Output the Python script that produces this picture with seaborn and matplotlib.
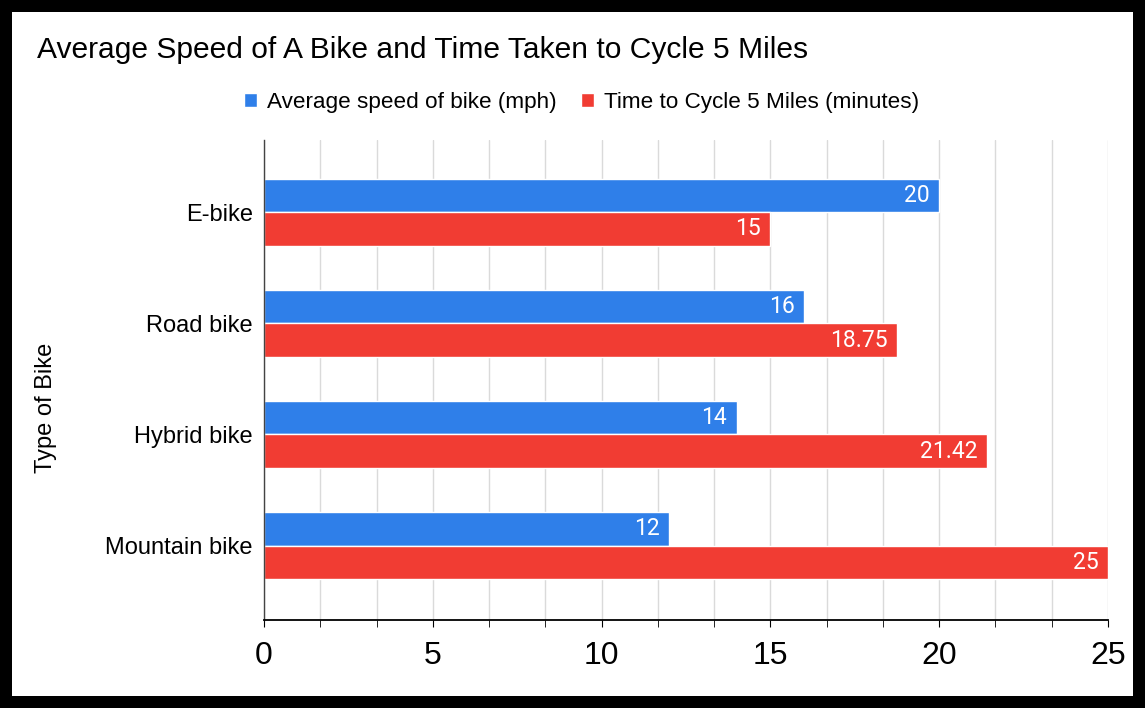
import pandas as pd
import numpy as np
import matplotlib
matplotlib.use("Agg")
import matplotlib.pyplot as plt
import seaborn as sns
from matplotlib.patches import Rectangle
from matplotlib.ticker import MultipleLocator

bikes = ["E-bike", "Road bike", "Hybrid bike", "Mountain bike"]
speed = [20, 16, 14, 12]
time_taken = [15, 18.75, 21.42, 25]
series = ["Average speed of bike (mph)", "Time to Cycle 5 Miles (minutes)"]

df = pd.DataFrame({
    "bike": bikes * 2,
    "value": speed + time_taken,
    "series": [series[0]] * 4 + [series[1]] * 4,
})

sns.set_style("white")
plt.rcParams['font.family'] = ['Liberation Sans', 'DejaVu Sans']
plt.rcParams['text.color'] = 'black'
plt.rcParams['xtick.color'] = 'black'
plt.rcParams['ytick.color'] = 'black'

blue = "#2F7FE9"
red = "#F13C33"

fig = plt.figure(figsize=(11.45, 7.08), dpi=100)
fig.patch.set_facecolor("black")
# white card inside the black frame
fig.patches.append(Rectangle((12/1145, 12/708), 1 - 24/1145, 1 - 24/708,
                             transform=fig.transFigure, facecolor="white",
                             edgecolor="none", zorder=-10))

ax = fig.add_axes([264/1145, 1 - 620/708, (1108 - 264)/1145, (620 - 140)/708])
sns.barplot(data=df, y="bike", x="value", hue="series", orient="h",
            palette=[blue, red], width=0.6, saturation=1, ax=ax)

# value labels inside bar ends
for cont in ax.containers:
    for p in cont:
        w = p.get_width()
        ax.annotate(f"{w:g}", (w, p.get_y() + p.get_height()/2),
                    xytext=(-7, 0), textcoords="offset points",
                    ha="right", va="center", color="white",
                    fontsize=16.5, family=["Roboto", "DejaVu Sans"])

ax.set_xlim(0, 25)
ax.set_ylim(3.67, -0.65)
ax.xaxis.set_major_locator(MultipleLocator(5))
ax.xaxis.set_minor_locator(MultipleLocator(5/3))
ax.grid(True, which="both", axis="x", color="#DADADA", linewidth=1)
ax.set_axisbelow(True)
ax.tick_params(axis="x", which="both", direction="out", length=5,
               color="black", bottom=True)
ax.tick_params(axis="x", which="major", labelsize=23, pad=10, labelcolor="black")
ax.tick_params(axis="y", length=0, labelsize=17, pad=8, labelcolor="black")

for s in ["top", "right"]:
    ax.spines[s].set_visible(False)
ax.spines["bottom"].set_color("black")
ax.spines["bottom"].set_linewidth(1.3)
ax.spines["left"].set_color("#444444")
ax.spines["left"].set_linewidth(1)

ax.set_xlabel("")
ax.set_ylabel("")
ax.get_legend().remove()

handles = [Rectangle((0, 0), 1, 1, facecolor=c) for c in [blue, red]]
fig.legend(handles, series, loc="center", bbox_to_anchor=(0.508, 0.855),
           ncol=2, frameon=False, fontsize=16.2, handlelength=0.55,
           handleheight=0.55, handletextpad=0.45, columnspacing=1.1,
           labelcolor="black")

fig.text(37/1145, 1 - 50/708, "Average Speed of A Bike and Time Taken to Cycle 5 Miles",
         ha="left", va="center", fontsize=21.6, color="black")
fig.text(46/1145, 1 - 408/708, "Type of Bike", rotation=90,
         ha="center", va="center", fontsize=17, color="black")

fig.savefig("out.png", dpi=100, facecolor=fig.get_facecolor())
